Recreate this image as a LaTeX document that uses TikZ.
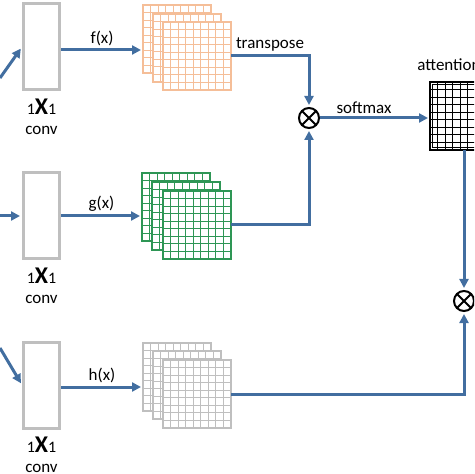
\documentclass[tikz,border=0pt]{standalone}
\usepackage{fontspec}
\setmainfont{Carlito}
\usepackage{xcolor}
\usepackage{tikz}
\usetikzlibrary{positioning}
\usetikzlibrary{arrows.meta}
\usetikzlibrary{calc}

\definecolor{arrblue}{RGB}{66,110,160}
\definecolor{fpeach}{RGB}{245,190,152}
\definecolor{ggreen}{RGB}{46,150,85}
\definecolor{hgray}{RGB}{191,191,191}

% inner lines of a 9x9 grid on a node
\newcommand{\gridlines}[2]{%
  \foreach \k in {1,...,8} {
    \draw[#2,line width=0.5pt] ($(#1.north west)!{\k/9}!(#1.north east)$) -- ($(#1.south west)!{\k/9}!(#1.south east)$);
    \draw[#2,line width=0.5pt] ($(#1.north west)!{\k/9}!(#1.south west)$) -- ($(#1.north east)!{\k/9}!(#1.south east)$);
  }}
\newcommand{\onebyone}{{\fontsize{8}{9}\selectfont 1}{\fontsize{12}{13}\selectfont\bfseries X}{\fontsize{8}{9}\selectfont 1}}

\begin{document}
\begin{tikzpicture}[x=0.5pt,y=-0.5pt,>={Triangle[length=4.5pt,width=4.5pt]},
  arr/.style={->,draw=arrblue,line width=1.5pt,shorten >=1pt},
  conv/.style={draw=hgray,line width=1.5pt,minimum width=18pt,minimum height=43pt,inner sep=0pt},
  lbl/.style={font=\fontsize{8.5}{10}\selectfont,inner sep=1.5pt},
  sheet/.style={draw=#1,fill=white,line width=0.7pt,minimum size=34pt,inner sep=0pt,outer sep=0pt},
  mul/.style={circle,draw,line width=1pt,minimum size=10pt,inner sep=0pt,
    path picture={\draw[line width=1pt] (path picture bounding box.north west) -- (path picture bounding box.south east)
      (path picture bounding box.north east) -- (path picture bounding box.south west);}}]
\useasboundingbox (0,0) rectangle (474,474);
\clip (0,0) rectangle (474,474);

% 1x1 convolutions
\node[conv] (c1) at (41.5,47)  {};
\node[conv] (c2) at (41.5,216) {};
\node[conv] (c3) at (41.5,385) {};
\foreach \c in {c1,c2,c3} {
  \node[lbl] (\c x) [below=2pt of \c] {\onebyone};
  \node[lbl] (\c n) [below=2.5pt of \c x] {conv};
}

% inputs
\coordinate (in1) at (0,78);
\coordinate (in2) at (0,216);
\coordinate (in3) at (0,348);
\draw[arr] (in1) -- (c1.west);
\draw[arr] (in2) -- (c2.west);
\draw[arr] (in3) -- (c3.west);

% feature maps
\node[sheet=fpeach] (f1) at (177,39) {};  \gridlines{f1}{fpeach}
\node[sheet=fpeach] (f2) at (187,48) {};  \gridlines{f2}{fpeach}
\node[sheet=fpeach] (f3) at (197,56) {};  \gridlines{f3}{fpeach}
\node[sheet=ggreen] (g1) at (176,207) {}; \gridlines{g1}{ggreen}
\node[sheet=ggreen] (g2) at (186,216) {}; \gridlines{g2}{ggreen}
\node[sheet=ggreen] (g3) at (197,225) {}; \gridlines{g3}{ggreen}
\node[sheet=hgray] (h1) at (177,377) {};  \gridlines{h1}{hgray}
\node[sheet=hgray] (h2) at (187,385) {};  \gridlines{h2}{hgray}
\node[sheet=hgray] (h3) at (197,394) {};  \gridlines{h3}{hgray}

\draw[arr] (c1.east |- 0,50) -- node[lbl,above] {f(x)} (f1.west |- 0,50);
\draw[arr] (c2.east) -- node[lbl,above] {g(x)} (c2.east -| g1.west);
\draw[arr] (c3.east |- 0,387) -- node[lbl,above] {h(x)} (h1.west |- 0,387);

% attention map
\node[sheet=black,line width=0.7pt] (att) at (464,116) {};
\gridlines{att}{black}
\draw[line width=0.7pt] ($(att.north west)+(2.5,2.5)$) rectangle ($(att.south east)+(-2.5,-2.5)$);
\node[lbl] (attlbl) at (449,65) {attention};

% products
\node[mul] (m1) at (309,118) {};
\node[mul] (m2) at (464,301) {};
\coordinate (out) at (474,301);

\draw[arr] (f3.east) -| node[lbl,above,pos=0.25] {transpose} (m1.north);
\draw[arr] (g3.east) -| (m1.south);
\draw[arr] (m1.east) -- node[lbl,above,pos=0.4] {softmax} (m1.east -| att.west);
\draw[arr] (att.south) -- (m2.north);
\draw[arr] (h3.east) -| (m2.south);
\draw[draw=arrblue,line width=1.5pt] (m2.east) -- (out);
\end{tikzpicture}
\end{document}
